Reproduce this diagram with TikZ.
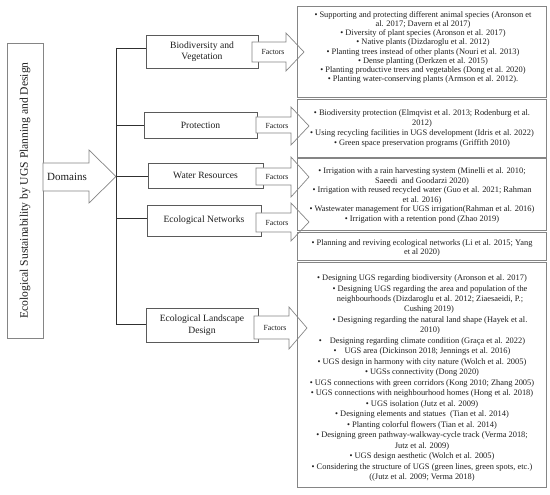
\documentclass[tikz,border=0pt]{standalone}
\usepackage{fontspec}
\setmainfont{Liberation Serif}
\definecolor{edgegray}{HTML}{858585}
\definecolor{domgray}{HTML}{5a5a5a}
\definecolor{linedark}{HTML}{303030}
\definecolor{txt}{HTML}{1e1e1e}
\begin{document}
\begin{tikzpicture}[x=1pt,y=-1pt,
  every node/.style={text=txt},
  mainbox/.style={draw=edgegray, line width=0.8pt, fill=white, rotate=90,
    minimum width=295pt, minimum height=36pt, inner sep=0pt,
    font=\fontsize{11.6}{13}\selectfont},
  dombox/.style={draw=domgray, line width=0.7pt, fill=white, align=center,
    inner sep=0pt, font=\fontsize{9.6}{11.5}\selectfont},
  bigarrow/.style={draw=edgegray, line width=0.7pt, fill=white, line join=miter},
  factorlabel/.style={inner sep=0pt, font=\fontsize{7.8}{9}\selectfont},
  listbox/.style={draw=edgegray, line width=0.9pt, minimum width=249pt, inner sep=0pt},
  listtext/.style={align=center, inner sep=0pt},
  trunk/.style={draw=linedark, line width=0.8pt}
]
\useasboundingbox (0,0) rectangle (550,495);

% main vertical box
\node[mainbox] (main) at (25,190.5) {Ecological Sustainability by UGS Planning and Design};

% Domains arrow
\path[bigarrow] (43,163) -- (89,163) -- (89,150) -- (116,176.5) -- (89,203) -- (89,191) -- (43,191) -- cycle;
\node[inner sep=0pt, font=\fontsize{11}{13}\selectfont] (domains) at (67,177) {Domains};
\coordinate (dtip) at (116,176.5);

% trunk coordinates
\coordinate (k1) at (116,48);
\coordinate (k2) at (116,125);
\coordinate (k3) at (116,176.5);
\coordinate (k4) at (116,218);
\coordinate (k5) at (116,324);

% domain boxes
\node[dombox, minimum width=112pt, minimum height=33pt] (b1) at (202,51.5) {Biodiversity and\\Vegetation};
\node[dombox, minimum width=113pt, minimum height=26pt] (b2) at (200.5,125) {Protection};
\node[dombox, minimum width=115pt, minimum height=25pt] (b3) at (205.5,175.5) {Water Resources};
\node[dombox, minimum width=114pt, minimum height=31pt] (b4) at (204,220.5) {Ecological Networks};
\node[dombox, minimum width=112pt, minimum height=34pt] (b5) at (202,325) {Ecological Landscape\\Design};

% trunk and branches
\draw[trunk] (k1) -- (k5);
\draw[trunk] (k1) -- (k1 -| b1.west);
\draw[trunk] (k2) -- (k2 -| b2.west);
\draw[trunk] (k3) -- (k3 -| b3.west);
\draw[trunk] (k4) -- (k4 -| b4.west);
\draw[trunk] (k5) -- (k5 -| b5.west);

% factor arrows
\path[bigarrow] (252,42) -- (286,42) -- (286,33) -- (304,52) -- (286,71) -- (286,62) -- (252,62) -- cycle;
\node[factorlabel] (f1) at (273,52) {Factors};
\path[bigarrow] (256,117) -- (291,117) -- (291,107) -- (309,126) -- (291,145) -- (291,133) -- (256,133) -- cycle;
\node[factorlabel] (f2) at (277,125.5) {Factors};
\path[bigarrow] (256,168) -- (291,168) -- (291,157) -- (309,177) -- (291,197) -- (291,185) -- (256,185) -- cycle;
\node[factorlabel] (f3) at (277,176.5) {Factors};
\path[bigarrow] (256,213) -- (291,213) -- (291,203) -- (309,222) -- (291,241) -- (291,232) -- (256,232) -- cycle;
\node[factorlabel] (f4) at (277,222.5) {Factors};
\path[bigarrow] (254,316) -- (289,316) -- (289,307) -- (307,328) -- (289,349) -- (289,339) -- (254,339) -- cycle;
\node[factorlabel] (f5) at (275,327.5) {Factors};

% right list boxes
\node[listbox, minimum height=91pt] (r1) at (421.5,51.5) {};
\node[listbox, minimum height=58pt] (r2) at (421.5,128) {};
\node[listbox, minimum height=72pt] (r3) at (421.5,194) {};
\node[listbox, minimum height=28pt] (r4) at (421.5,246) {};
\node[listbox, minimum height=225pt] (r5) at (421.5,374.5) {};

\node[listtext, font=\fontsize{8.4}{9.2}\selectfont] (t1) at (423,47.5) {%
\textbullet\ Supporting and protecting different animal species (Aronson et\\
al. 2017; Davern et al 2017)\\
\textbullet\ Diversity of plant species (Aronson et al. 2017)\\
\textbullet\ Native plants (Dizdaroglu et al. 2012)\\
\textbullet\ Planting trees instead of other plants (Nouri et al. 2013)\\
\textbullet\ Dense planting (Derkzen et al. 2015)\\
\textbullet\ Planting productive trees and vegetables (Dong et al. 2020)\\
\textbullet\ Planting water-conserving plants (Armson et al. 2012).};

\node[listtext, font=\fontsize{8.4}{10}\selectfont] (t2) at (422,128.5) {%
\textbullet\ Biodiversity protection (Elmqvist et al. 2013; Rodenburg et al.\\
2012)\\
\textbullet\ Using recycling facilities in UGS development (Idris et al. 2022)\\
\textbullet\ Green space preservation programs (Griffith 2010)};

\node[listtext, font=\fontsize{8.4}{9.6}\selectfont] (t3) at (422,195.5) {%
\textbullet\ Irrigation with a rain harvesting system (Minelli et al. 2010;\\
Saeedi\ \ and Goodarzi 2020)\\
\textbullet\ Irrigation with reused recycled water (Guo et al. 2021; Rahman\\
et al. 2016)\\
\textbullet\ Wastewater management for UGS irrigation(Rahman et al. 2016)\\
\textbullet\ Irrigation with a retention pond (Zhao 2019)};

\node[listtext, font=\fontsize{8.4}{9.2}\selectfont] (t4) at (422,248) {%
\textbullet\ Planning and reviving ecological networks (Li et al. 2015; Yang\\
et al 2020)};

\node[listtext, font=\fontsize{8.4}{10.47}\selectfont] (t5) at (422,378) {%
\textbullet\ Designing UGS regarding biodiversity (Aronson et al. 2017)\\
\hspace*{16pt}\textbullet\ Designing UGS regarding the area and population of the\\
\hspace*{16pt}neighbourhoods (Dizdaroglu et al. 2012; Ziaesaeidi, P.;\\
\hspace*{14pt}Cushing 2019)\\
\hspace*{16pt}\textbullet\ Designing regarding the natural land shape (Hayek et al.\\
\hspace*{16pt}2010)\\
\textbullet\hspace{8pt}Designing regarding climate condition (Graça et al. 2022)\\
\textbullet\hspace{8pt}UGS area (Dickinson 2018; Jennings et al. 2016)\\
\textbullet\ UGS design in harmony with city nature (Wolch et al. 2005)\\
\textbullet\ UGSs connectivity (Dong 2020)\\
\textbullet\ UGS connections with green corridors (Kong 2010; Zhang 2005)\\
\textbullet\ UGS connections with neighbourhood homes (Hong et al. 2018)\\
\textbullet\ UGS isolation (Jutz et al. 2009)\\
\textbullet\ Designing elements and statues\ \ (Tian et al. 2014)\\
\textbullet\ Planting colorful flowers (Tian et al. 2014)\\
\textbullet\ Designing green pathway-walkway-cycle track (Verma 2018;\\
Jutz et al. 2009)\\
\textbullet\ UGS design aesthetic (Wolch et al. 2005)\\
\textbullet\ Considering the structure of UGS (green lines, green spots, etc.)\\
((Jutz et al. 2009; Verma 2018)};

\end{tikzpicture}
\end{document}
